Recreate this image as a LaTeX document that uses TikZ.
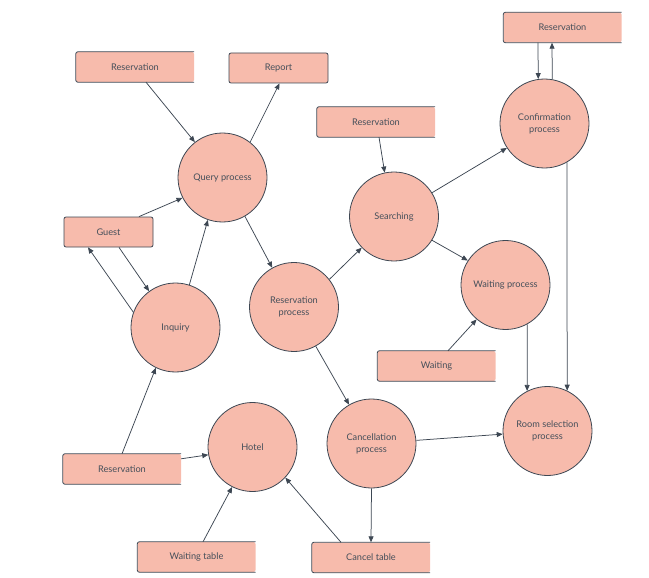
\documentclass[tikz,border=0pt]{standalone}
\usepackage{fontspec}
\setmainfont{Lato}
\usetikzlibrary{arrows.meta}
\definecolor{salmon}{HTML}{F7BBAC}
\definecolor{edge}{HTML}{3D4753}
\definecolor{txt}{HTML}{454F5A}
\tikzset{
  proc/.style={circle,draw=edge,fill=salmon,line width=0.8pt,minimum size=89pt,inner sep=0pt,align=center,text=txt,font=\fontsize{9.2}{12}\selectfont},
  storebox/.style={rectangle,fill=salmon,rounded corners=2pt,minimum width=118pt,minimum height=30pt,inner sep=0pt,text=txt,font=\fontsize{9.2}{12}\selectfont},
  storeline/.style={draw=edge,line width=0.8pt,rounded corners=2pt},
  entity/.style={rectangle,draw=edge,fill=salmon,rounded corners=2pt,line width=0.8pt,minimum height=30pt,inner sep=0pt,text=txt,font=\fontsize{9.2}{12}\selectfont},
  flow/.style={draw=edge,line width=0.75pt,-{Triangle[length=6pt,width=5pt]}}
}
\newcommand\dstore[3]{%
  \node[storebox] (#1) at (#2) {#3};
  \draw[storeline] (#1.north east) -- (#1.north west) -- (#1.south west) -- (#1.south east);}
\begin{document}
\begin{tikzpicture}[x=1pt,y=-1pt]
\useasboundingbox (0,0) rectangle (649,578);
% processes
\node[proc] (query) at (222.5,177.5) {Query process};
\node[proc] (inq) at (175.5,327.5) {Inquiry};
\node[proc] (resp) at (294,307) {Reservation\\process};
\node[proc] (search) at (394,216.5) {Searching};
\node[proc] (conf) at (544.5,123.5) {Confirmation\\process};
\node[proc] (waitp) at (505.5,285) {Waiting process};
\node[proc] (room) at (547.5,431) {Room selection\\process};
\node[proc] (canc) at (371.5,443.5) {Cancellation\\process};
\node[proc] (hotel) at (252.5,447) {Hotel};
% entities
\node[entity,minimum width=99pt] (report) at (278.5,68) {Report};
\node[entity,minimum width=89pt] (guest) at (108.5,232) {Guest};
% data stores
\dstore{resTL}{135,67}{Reservation}
\dstore{resTR}{562.5,27.5}{Reservation}
\dstore{resM}{376,122}{Reservation}
\dstore{waiting}{436.5,366}{Waiting}
\dstore{resBL}{122,469}{Reservation}
\dstore{waitT}{196.5,557}{Waiting table}
\dstore{cancT}{371,557.5}{Cancel table}
% flows
\draw[flow] ([xshift=11pt]resTL.south) -- (query.128);
\draw[flow] (query.52) -- ([xshift=1pt]report.south);
\draw[flow] ([xshift=30.5pt]guest.north) -- (query.207);
\draw[flow] (inq.160) -- ([xshift=-20.5pt]guest.south);
\draw[flow] ([xshift=10.5pt]guest.south) -- (inq.126);
\draw[flow] (inq.72) -- (query.251);
\draw[flow] (query.300) -- (resp.119);
\draw[flow] (resp.38) -- (search.224);
\draw[flow] ([xshift=3pt]resM.south) -- (search.102);
\draw[flow] (search.32) -- (conf.213);
\draw[flow] (search.328) -- (waitp.147);
\draw[flow] ([xshift=-24.5pt]resTR.south) -- (conf.98);
\draw[flow] (conf.80) -- ([xshift=-10.5pt]resTR.south);
\draw[flow] (conf.300) -- (room.64);
\draw[flow] (waitp.299) -- (room.117);
\draw[flow] ([xshift=11.5pt]waiting.north) -- (waitp.230);
\draw[flow] (resp.299) -- (canc.120);
\draw[flow] (canc.4) -- (room.184);
\draw[flow] (canc.south) -- (cancT.north);
\draw[flow] ([xshift=-30pt]cancT.north) -- (hotel.317);
\draw[flow] ([xshift=6.5pt]waitT.north) -- (hotel.243);
\draw[flow] ([yshift=-5pt]resBL.north east) -- (hotel.190);
\draw[flow] (resBL.north) -- (inq.244);
\end{tikzpicture}
\end{document}
